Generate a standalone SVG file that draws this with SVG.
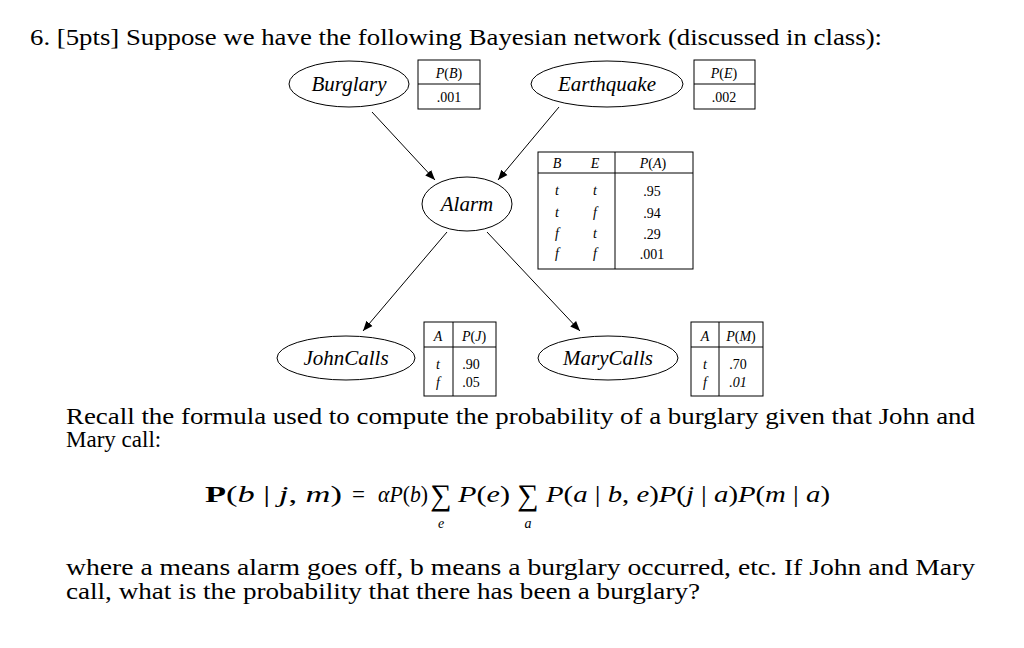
<svg xmlns="http://www.w3.org/2000/svg" width="1024" height="648" viewBox="0 0 1024 648">
<style>
.t{font-family:"Liberation Serif",Tinos,"Times New Roman",Times,"DejaVu Serif",serif;font-size:23px;fill:#000}
.n{font-family:"Liberation Serif",Tinos,"Times New Roman",Times,serif;font-style:italic;font-size:21px;text-anchor:middle}
.s{font-family:"Liberation Serif",Tinos,"Times New Roman",Times,serif;font-size:14px;text-anchor:middle}
.i{font-style:italic}
.e,.b{fill:#fff;stroke:#000;stroke-width:1}
.l{stroke:#000;stroke-width:1;fill:none}
</style>
<defs><marker id="a" viewBox="0 0 10 10" refX="10" refY="5" markerWidth="10" markerHeight="10" markerUnits="userSpaceOnUse" orient="auto"><path d="M0,1 L10,5 L0,9 z" fill="#000"/></marker></defs>
<rect width="1024" height="648" fill="#fff"/>
<text class="t" x="30" y="45" textLength="852" lengthAdjust="spacingAndGlyphs">6. [5pts] Suppose we have the following Bayesian network (discussed in class):</text>
<g id="connectors">
<line class="l" x1="372" y1="112" x2="435" y2="180" marker-end="url(#a)"/>
<line class="l" x1="559" y1="107" x2="498" y2="180" marker-end="url(#a)"/>
<line class="l" x1="447" y1="232" x2="363" y2="331" marker-end="url(#a)"/>
<line class="l" x1="487" y1="232" x2="580" y2="331" marker-end="url(#a)"/>
</g>
<g id="burglary"><ellipse class="e" cx="349" cy="84" rx="60" ry="23"/><text class="n" x="349" y="91">Burglary</text>
<rect class="b" x="418" y="60" width="62" height="49"/><line class="l" x1="418" y1="84" x2="480" y2="84"/>
<text class="s" x="449" y="78"><tspan class="i">P</tspan>(<tspan class="i">B</tspan>)</text><text class="s" x="449" y="102">.001</text></g>
<g id="earthquake"><ellipse class="e" cx="607" cy="84" rx="76" ry="23"/><text class="n" x="607" y="91">Earthquake</text>
<rect class="b" x="694" y="60" width="61" height="49"/><line class="l" x1="694" y1="84" x2="755" y2="84"/>
<text class="s" x="724" y="78"><tspan class="i">P</tspan>(<tspan class="i">E</tspan>)</text><text class="s" x="724" y="102">.002</text></g>
<g id="alarm"><ellipse class="e" cx="467" cy="204" rx="45" ry="27"/><text class="n" x="467" y="211">Alarm</text>
<rect class="b" x="538" y="152" width="155" height="117"/><line class="l" x1="538" y1="173" x2="693" y2="173"/><line class="l" x1="615" y1="152" x2="615" y2="269"/>
<text class="s i" x="557" y="168">B</text><text class="s i" x="595" y="168">E</text><text class="s" x="653" y="168"><tspan class="i">P</tspan>(<tspan class="i">A</tspan>)</text>
<g class="s i"><text x="557" y="195">t</text><text x="595" y="195">t</text><text x="557" y="217">t</text><text x="595" y="217">f</text><text x="557" y="238">f</text><text x="595" y="238">t</text><text x="557" y="258">f</text><text x="595" y="258">f</text></g>
<text class="s" x="652" y="196">.95</text><text class="s" x="652" y="218">.94</text><text class="s" x="652" y="239">.29</text><text class="s" x="652" y="259">.001</text></g>
<g id="john"><ellipse class="e" cx="346" cy="358" rx="69" ry="22"/><text class="n" x="346" y="365">JohnCalls</text>
<rect class="b" x="424" y="322" width="72" height="74"/><line class="l" x1="424" y1="347" x2="496" y2="347"/><line class="l" x1="453" y1="322" x2="453" y2="396"/>
<text class="s i" x="438" y="341">A</text><text class="s" x="474" y="341"><tspan class="i">P</tspan>(<tspan class="i">J</tspan>)</text>
<text class="s i" x="438" y="369">t</text><text class="s i" x="438" y="387">f</text>
<text class="s" x="471" y="369">.90</text><text class="s" x="471" y="387">.05</text></g>
<g id="mary"><ellipse class="e" cx="608" cy="358" rx="70" ry="22"/><text class="n" x="608" y="365">MaryCalls</text>
<rect class="b" x="691" y="322" width="72" height="74"/><line class="l" x1="691" y1="347" x2="763" y2="347"/><line class="l" x1="719" y1="322" x2="719" y2="396"/>
<text class="s i" x="705" y="341">A</text><text class="s" x="741" y="341"><tspan class="i">P</tspan>(<tspan class="i">M</tspan>)</text>
<text class="s i" x="705" y="369">t</text><text class="s i" x="705" y="387">f</text>
<text class="s" x="738" y="369">.70</text><text class="s" x="738" y="387" font-style="italic">.01</text></g>
<text class="t" x="66" y="424" textLength="909" lengthAdjust="spacingAndGlyphs">Recall the formula used to compute the probability of a burglary given that John and</text>
<text class="t" x="66" y="447">Mary call:</text>
<g id="formula" class="t" font-size="24">
<text x="205" y="502" textLength="137" lengthAdjust="spacingAndGlyphs"><tspan font-weight="bold">P</tspan>(<tspan class="i">b</tspan> | <tspan class="i">j</tspan>, <tspan class="i">m</tspan>)</text>
<text x="352" y="502">=</text>
<text x="378" y="502" textLength="50" lengthAdjust="spacingAndGlyphs"><tspan class="i">αP</tspan>(<tspan class="i">b</tspan>)</text>
<text x="441" y="505" font-size="30" text-anchor="middle">∑</text>
<text x="458" y="502" textLength="52" lengthAdjust="spacingAndGlyphs"><tspan class="i">P</tspan>(<tspan class="i">e</tspan>)</text>
<text x="528" y="505" font-size="30" text-anchor="middle">∑</text>
<text x="546" y="502" textLength="284" lengthAdjust="spacingAndGlyphs"><tspan class="i">P</tspan>(<tspan class="i">a</tspan> | <tspan class="i">b</tspan>, <tspan class="i">e</tspan>)<tspan class="i">P</tspan>(<tspan class="i">j</tspan> | <tspan class="i">a</tspan>)<tspan class="i">P</tspan>(<tspan class="i">m</tspan> | <tspan class="i">a</tspan>)</text>
</g>
<text class="s i" x="441" y="528">e</text><text class="s i" x="528" y="528">a</text>
<text class="t" x="66" y="575" textLength="909" lengthAdjust="spacingAndGlyphs">where a means alarm goes off, b means a burglary occurred, etc. If John and Mary</text>
<text class="t" x="66" y="599" textLength="634" lengthAdjust="spacingAndGlyphs">call, what is the probability that there has been a burglary?</text>
</svg>
